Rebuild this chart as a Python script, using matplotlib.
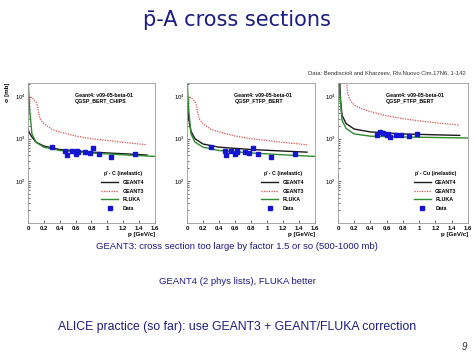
"""p̄-A cross sections slide: three ROOT-style panels of sigma vs p."""

import matplotlib
matplotlib.use("Agg")
import matplotlib.pyplot as plt
from matplotlib.lines import Line2D

plt.rcParams["font.family"] = ["Liberation Sans", "DejaVu Sans"]
plt.rcParams["mathtext.fontset"] = "custom"
plt.rcParams["mathtext.rm"] = "Liberation Sans:bold"

# ---- data (p in GeV/c, sigma in mb) ----
g3_p = [0.0, 0.05, 0.1, 0.12, 0.14, 0.16, 0.2, 0.3, 0.4, 0.6, 0.8, 1.0, 1.2, 1.5]
g3_c = [10000, 9500, 7600, 6000, 3600, 2800, 2300, 1670, 1450, 1160, 1000, 910, 820, 720]

g4_chips_p = [0.0, 0.02, 0.05, 0.1, 0.2, 0.4, 0.8, 1.2, 1.5]
g4_chips_c = [1700, 1350, 1100, 830, 670, 555, 480, 440, 410]

g4_ftfp_p = [0.0, 0.02, 0.05, 0.1, 0.2, 0.4, 0.8, 1.2, 1.5]
g4_ftfp_c = [8000, 3000, 1500, 1000, 750, 630, 555, 510, 480]

fluka_p = [0.0, 0.01, 0.02, 0.05, 0.1, 0.2, 0.4, 0.8, 1.2, 1.6]
fluka_c = [40000, 12000, 5200, 1300, 830, 630, 525, 460, 415, 380]

data_c_p = [0.30, 0.47, 0.49, 0.55, 0.60, 0.62, 0.63, 0.72, 0.78, 0.82, 0.89, 1.05, 1.35]
data_c_s = [620, 525, 410, 505, 435, 515, 480, 490, 450, 600, 435, 375, 435]

g3_cu_p = [0.10, 0.12, 0.15, 0.2, 0.3, 0.4, 0.6, 0.8, 1.0, 1.2, 1.5]
g3_cu_s = [25000, 12000, 8300, 6300, 5100, 4400, 3500, 3000, 2650, 2400, 2100]

g4_cu_p = [0.02, 0.03, 0.05, 0.1, 0.2, 0.4, 0.8, 1.2, 1.5]
g4_cu_s = [25000, 9000, 3600, 2300, 1700, 1450, 1300, 1240, 1200]

fluka_cu_p = [0.0, 0.02, 0.05, 0.1, 0.2, 0.4, 0.8, 1.2, 1.6]
fluka_cu_s = [40000, 14000, 2750, 1750, 1300, 1150, 1100, 1070, 1040]

data_cu_p = [0.48, 0.52, 0.55, 0.60, 0.62, 0.64, 0.72, 0.78, 0.88, 0.97]
data_cu_s = [1250, 1450, 1350, 1200, 1280, 1120, 1250, 1220, 1150, 1280]

panels = [
    dict(g4=(g4_chips_p, g4_chips_c), g3=(g3_p, g3_c), fl=(fluka_p, fluka_c),
         data=(data_c_p, data_c_s), tag="Geant4: v09-05-beta-01\nQGSP_BERT_CHIPS",
         target="C", rect=[0.059, 0.372, 0.268, 0.394], ylabel=True),
    dict(g4=(g4_ftfp_p, g4_ftfp_c), g3=(g3_p, g3_c), fl=(fluka_p, fluka_c),
         data=(data_c_p, data_c_s), tag="Geant4: v09-05-beta-01\nQGSP_FTFP_BERT",
         target="C", rect=[0.3945, 0.372, 0.270, 0.394], ylabel=False),
    dict(g4=(g4_cu_p, g4_cu_s), g3=(g3_cu_p, g3_cu_s), fl=(fluka_cu_p, fluka_cu_s),
         data=(data_cu_p, data_cu_s), tag="Geant4: v09-05-beta-01\nQGSP_FTFP_BERT",
         target="Cu", rect=[0.713, 0.372, 0.274, 0.394], ylabel=False),
]

NAVY = "#1c1c82"
G4_COL, G3_COL, FL_COL, DATA_COL = "#1a1a1a", "#d9534f", "#2e8b2e", "#1414d2"

fig = plt.figure(figsize=(4.74, 3.55), dpi=100)

for pan in panels:
    ax = fig.add_axes(pan["rect"])
    ax.set_yscale("log")
    ax.plot(*pan["g4"], color=G4_COL, lw=1.0)
    ax.plot(*pan["g3"], color=G3_COL, lw=0.9, ls=(0, (1, 1)))
    ax.plot(*pan["fl"], color=FL_COL, lw=1.0)
    dp, ds = pan["data"]
    ax.errorbar(dp, ds, yerr=[s * 0.08 for s in ds], fmt="s", ms=3,
                color=DATA_COL, ecolor=DATA_COL, elinewidth=0.5, capsize=0)
    ax.set_xlim(0, 1.6)
    ax.set_ylim(10, 21000)
    ax.set_xticks([0, 0.2, 0.4, 0.6, 0.8, 1.0, 1.2, 1.4, 1.6])
    ax.set_xticklabels(["0", "0.2", "0.4", "0.6", "0.8", "1", "1.2", "1.4", "1.6"])
    ax.set_yticks([100, 1000, 10000])
    ax.tick_params(axis="both", which="both", direction="in", labelsize=4.3,
                   length=2.5, width=0.4, pad=1.5)
    ax.tick_params(axis="y", which="minor", length=1.2)
    ax.tick_params(axis="x", pad=2)
    for lab in ax.get_xticklabels():
        lab.set_fontweight("bold")
    for sp in ax.spines.values():
        sp.set_color("#9a9a9a")
        sp.set_linewidth(0.6)
    ax.text(1.0, -0.065, "p [GeV/c]", transform=ax.transAxes, ha="right",
            va="top", fontsize=4.5, fontweight="bold")
    if pan["ylabel"]:
        ax.text(-0.165, 1.0, "\u03c3 [mb]", transform=ax.transAxes, rotation=90,
                ha="center", va="top", fontsize=4.5, fontweight="bold")
    ax.text(0.37, 0.93, pan["tag"], transform=ax.transAxes, ha="left", va="top",
            fontsize=3.8, fontweight="bold", linespacing=1.3)
    handles = [
        Line2D([], [], color=G4_COL, lw=1.0),
        Line2D([], [], color=G3_COL, lw=0.9, ls=(0, (1, 1))),
        Line2D([], [], color=FL_COL, lw=1.0),
        Line2D([], [], color=DATA_COL, marker="s", ms=3, ls="none"),
    ]
    leg = ax.legend(handles, ["GEANT4", "GEANT3", "FLUKA", "Data"],
                    title="p\u0304 - %s (inelastic)" % pan["target"],
                    loc="lower right", bbox_to_anchor=(0.93, 0.07),
                    frameon=False, prop={"size": 3.8, "weight": "bold"},
                    handlelength=3.2, labelspacing=0.7, borderaxespad=0)
    leg.get_title().set_fontsize(3.8)
    leg.get_title().set_fontweight("bold")

fig.text(0.5, 0.944, "p\u0304-A cross sections", ha="center", va="center",
         fontsize=15, color=NAVY, family=["DejaVu Sans"])
fig.text(0.983, 0.795, "Data: Bendiscioli and Kharzeev, Riv.Nuovo Cim.17N6, 1-142",
         ha="right", va="center", fontsize=4.2, color="#333333")
fig.text(0.5, 0.305, "GEANT3: cross section too large by factor 1.5 or so (500-1000 mb)",
         ha="center", va="center", fontsize=6.8, color=NAVY)
fig.text(0.5, 0.208, "GEANT4 (2 phys lists), FLUKA better",
         ha="center", va="center", fontsize=6.8, color=NAVY)
fig.text(0.5, 0.079, "ALICE practice (so far): use GEANT3 + GEANT/FLUKA correction",
         ha="center", va="center", fontsize=8.8, color=NAVY)
fig.text(0.985, 0.023, "9", ha="right", va="center", fontsize=7,
         style="italic", color="#333333")

fig.savefig("out.png", dpi=100)
